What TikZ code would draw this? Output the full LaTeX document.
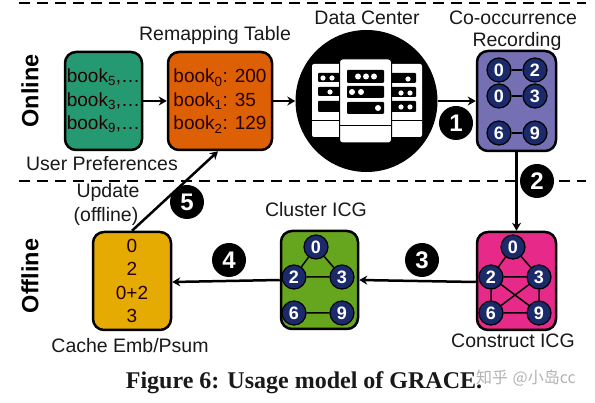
\documentclass[tikz,border=0pt]{standalone}
\usepackage{fontspec}
\setmainfont{Liberation Sans}
\newfontfamily\capfont{Liberation Serif}
\newfontfamily\cjkfont{Noto Sans CJK SC}
\usetikzlibrary{arrows.meta}
\definecolor{cgreen}{HTML}{259A72}
\definecolor{corange}{HTML}{DE6005}
\definecolor{cpurple}{HTML}{7570B3}
\definecolor{cpink}{HTML}{E7298A}
\definecolor{clime}{HTML}{66A61E}
\definecolor{cyellow}{HTML}{E6AB02}
\definecolor{cnavy}{HTML}{1B2A6B}
\tikzset{
  panel/.style={draw=black,line width=2.5pt,rounded corners=11pt,inner sep=0pt,text=black!85!red},
  lbl/.style={inner sep=0pt,font=\fontsize{19.5}{22}\selectfont,text=black!90},
  rowtext/.style={align=left,font=\fontsize{19}{23.5}\selectfont},
  gnode/.style={circle,draw=black,line width=1.2pt,fill=cnavy,text=white,minimum size=24pt,inner sep=0pt,font=\fontsize{18}{18}\selectfont\bfseries},
  gedge/.style={draw=black,line width=1.5pt},
  flow/.style={draw=black,line width=2.5pt,-{Stealth[length=8pt,width=9pt]}},
  badge/.style={circle,fill=black,text=white,minimum size=34pt,inner sep=0pt,font=\fontsize{24}{24}\selectfont\bfseries},
  divider/.style={draw=black,line width=1.6pt,dash pattern=on 11pt off 7pt},
  slot/.style={fill=black,rounded corners=1pt},
  led/.style={fill=white}
}
\newcommand{\bk}[1]{book\textsubscript{#1}}
\begin{document}
\begin{tikzpicture}[x=1pt,y=-1pt]
\useasboundingbox (0,0) rectangle (595,403);
\fill[white] (0,0) rectangle (595,403);
% dividers
\coordinate (topl) at (19,3); \coordinate (topr) at (586,3);
\coordinate (midl) at (19,181); \coordinate (midr) at (586,181);
\draw[divider] (topl) -- (topr);
\draw[divider] (midl) -- (midr);
% side labels
\node[rotate=90,inner sep=0pt,font=\fontsize{23.5}{23.5}\selectfont\bfseries] (online) at (30,91) {Online};
\node[rotate=90,inner sep=0pt,font=\fontsize{23.5}{23.5}\selectfont\bfseries] (offline) at (30,276) {Offline};
% panels
\node[panel,fill=cgreen,minimum width=77pt,minimum height=98pt,rowtext] (prefs) at (103.5,101) {\bk{5},\ldots\\\bk{3},\ldots\\\bk{9},\ldots};
\node[panel,fill=corange,minimum width=104pt,minimum height=98pt,rowtext] (remap) at (220,101) {\bk{0}: 200\\\bk{1}: 35\\\bk{2}: 129};
\node[circle,fill=black,minimum size=142pt,inner sep=0pt] (dc) at (366.5,101) {};
\node[panel,fill=cpurple,minimum width=79pt,minimum height=100pt] (cooc) at (516.5,101) {};
\node[panel,fill=cpink,minimum width=79pt,minimum height=98pt] (build) at (516.5,281) {};
\node[panel,fill=clime,minimum width=77pt,minimum height=98pt] (clust) at (319.5,280) {};
\node[panel,fill=cyellow,minimum width=78pt,minimum height=98pt,align=center,font=\fontsize{19}{23.5}\selectfont] (cache) at (132,281) {0\\2\\0+2\\3};
% servers
\fill[white,rounded corners=2pt] (312,64) rectangle (345,137);
\fill[white,rounded corners=2pt] (385,64) rectangle (422,137);
\draw[black,line width=1pt] (312,121) -- (422,121);
\fill[slot] (318,73) rectangle (345,82);
\fill[slot] (318,87) rectangle (345,96);
\fill[slot] (318,101) rectangle (345,112);
\fill[slot] (385,73) rectangle (416,83);
\fill[slot] (385,87) rectangle (416,97);
\fill[slot] (385,101) rectangle (416,112);
\fill[led] (323,78) circle (2.6);
\fill[led] (332,78) circle (2.6);
\fill[led] (330,92) circle (2.6);
\fill[led] (408,79) circle (2.6);
\fill[led] (401,93) circle (2.6);
\fill[led] (410,93) circle (2.6);
\fill[led] (401,107) circle (2.6);
\fill[led] (410,107) circle (2.6);
\draw[black,line width=1pt,fill=white,rounded corners=3pt] (339.5,59) rectangle (391.5,143);
\draw[black,line width=1pt] (339.5,125.5) -- (391.5,125.5);
\fill[slot] (347,70) rectangle (384,83);
\fill[slot] (347,86) rectangle (384,98);
\fill[slot] (347,102) rectangle (384,114);
\fill[led] (358,76.5) circle (3);
\fill[led] (366,76.5) circle (3);
\fill[led] (374,76.5) circle (3);
\fill[led] (352,92) circle (3);
\fill[led] (361,92) circle (3);
\fill[led] (378,108) circle (3);
% co-occurrence graph
\node[gnode] (a0) at (499,70) {0};
\node[gnode] (a2) at (535,70) {2};
\node[gnode] (b0) at (499,96) {0};
\node[gnode] (b3) at (535,96) {3};
\node[gnode] (c6) at (499,133) {6};
\node[gnode] (c9) at (535,133) {9};
\draw[gedge] (a0)--(a2) (b0)--(b3) (c6)--(c9);
% construct graph
\node[gnode] (p0) at (513,247) {0};
\node[gnode] (p2) at (491,277) {2};
\node[gnode] (p3) at (539,277) {3};
\node[gnode] (p6) at (491,313) {6};
\node[gnode] (p9) at (539,313) {9};
\draw[gedge] (p0)--(p2) (p0)--(p3) (p2)--(p3) (p2)--(p6) (p3)--(p9) (p6)--(p9) (p2)--(p9) (p3)--(p6);
% cluster graph
\node[gnode] (q0) at (316,247) {0};
\node[gnode] (q2) at (294,277) {2};
\node[gnode] (q3) at (342,277) {3};
\node[gnode] (q6) at (294,313) {6};
\node[gnode] (q9) at (342,313) {9};
\draw[gedge] (q0)--(q2) (q0)--(q3) (q2)--(q3) (q6)--(q9);
% connectors
\draw[flow] (prefs.east) -- (remap.west);
\draw[flow] (remap.east) -- (dc.west);
\draw[flow] (dc.east) -- (cooc.west);
\draw[flow] (cooc.south) -- (build.north);
\draw[flow] ([yshift=-1pt]build.west) -- (clust.east);
\draw[flow] (clust.west) -- ([yshift=-1pt]cache.east);
\draw[flow] (cache.north) -- ([xshift=-2pt]remap.south);
% badges
\node[badge] (n1) at (456,123) {1};
\node[badge] (n2) at (537,181) {2};
\node[badge] (n3) at (422,260) {3};
\node[badge] (n4) at (229,260) {4};
\node[badge] (n5) at (187,202) {5};
% labels
\node[lbl] (t1) at (215,35) {Remapping Table};
\node[lbl] (t2) at (367,18) {Data Center};
\node[lbl] (t3) at (513,18) {Co-occurrence};
\node[lbl] (t4) at (517,41) {Recording};
\node[lbl] (t5) at (102,164) {User Preferences};
\node[lbl] (t6) at (108,192) {Update};
\node[lbl] (t7) at (106,216) {(offline)};
\node[lbl] (t8) at (316,210) {Cluster ICG};
\node[lbl] (t9) at (513,341) {Construct ICG};
\node[lbl] (t10) at (130,346) {Cache Emb/Psum};
% caption
\node[inner sep=0pt,font=\capfont\fontsize{24}{24}\selectfont\bfseries,text=black!90] (cap) at (304,383) {Figure 6: Usage model of GRACE.};
\node[inner sep=0pt,font=\fontsize{16}{16}\selectfont,text=black!30] (wm) at (526,378) {{\cjkfont 知乎} {\cjkfont @小岛cc}};
\end{tikzpicture}
\end{document}
